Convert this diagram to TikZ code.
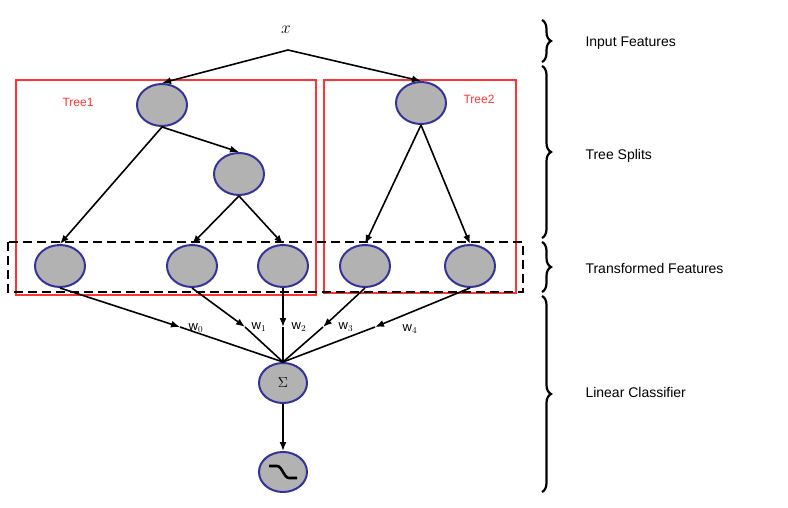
\documentclass[tikz,border=0pt]{standalone}
\usepackage{fontspec}
\setmainfont{Liberation Sans}
\usetikzlibrary{decorations.pathreplacing,arrows.meta,shapes.geometric}
\begin{document}
\begin{tikzpicture}[x=1pt,y=-1pt,
  nd/.style={ellipse,draw=blue!50!black!80,line width=2pt,fill=black!30,minimum width=50pt,minimum height=42pt,inner sep=0pt},
  ed/.style={-{Latex[length=9pt,width=7pt]},line width=1.6pt},
  ln/.style={line width=1.6pt},
  tb/.style={draw=red!80,line width=2pt},
  br/.style={decorate,decoration={brace,amplitude=9pt},line width=2.2pt},
  lab/.style={anchor=west,font=\fontsize{14}{16}\selectfont},
  wl/.style={font=\fontsize{13}{15}\selectfont}]
\useasboundingbox (0,0) rectangle (788,508);
\draw[tb] (16,80) rectangle (316,295);
\draw[tb] (324,80) rectangle (516,293);
\draw[line width=2.2pt,dash pattern=on 9pt off 5pt] (8,242) rectangle (523,292);
\node[font=\fontsize{17}{19}\selectfont] (x) at (286,30) {$x$};
\coordinate (sp) at (288,50);
\node[nd] (r1) at (162,105) {};
\node[nd] (i1) at (239,174) {};
\node[nd] (r2) at (421,103) {};
\node[nd] (l1) at (60,266) {};
\node[nd] (l2) at (192,266) {};
\node[nd] (l3) at (283,266) {};
\node[nd] (l4) at (365,266) {};
\node[nd] (l5) at (470,266) {};
\node[nd,minimum width=48pt,minimum height=40pt,font=\fontsize{14}{16}\selectfont] (s) at (283,383) {$\Sigma$};
\node[nd,minimum width=48pt,minimum height=40pt] (g) at (283,472) {};
\draw[line width=2.6pt] ([xshift=-14pt,yshift=6pt]g.center) -- ([xshift=-6pt,yshift=6pt]g.center) .. controls ([xshift=-1pt,yshift=6pt]g.center) and ([xshift=1pt,yshift=-6pt]g.center) .. ([xshift=6pt,yshift=-6pt]g.center) -- ([xshift=14pt,yshift=-6pt]g.center);
\node[text=red!80,font=\fontsize{12}{14}\selectfont] (t1) at (78,102) {Tree1};
\node[text=red!80,font=\fontsize{12}{14}\selectfont] (t2) at (479,99) {Tree2};
\draw[ed] (sp) -- (r2.north);
\draw[ed] (sp) -- (r1.north);
\draw[ed] (r1.south) -- (l1.north);
\draw[ed] (r1.south) -- (i1.north);
\draw[ed] (i1.south) -- (l2.north);
\draw[ed] (i1.south) -- (l3.north);
\draw[ed] (r2.south) -- (l4.north);
\draw[ed] (r2.south) -- (l5.north);
\coordinate (m0) at (180,327);
\coordinate (m1) at (245,327);
\coordinate (m2) at (283,327);
\coordinate (m3) at (323,327);
\coordinate (m4) at (375,327);
\foreach \l/\m in {l1/m0,l2/m1,l3/m2,l4/m3,l5/m4}{
  \draw[ed] (\l.south) -- (\m);
  \draw[ln] (\m) -- (s.north);}
\node[wl] (w0) at (196,328) {w$_0$};
\node[wl] (w1) at (259,327) {w$_1$};
\node[wl] (w2) at (299,327) {w$_2$};
\node[wl] (w3) at (346,327) {w$_3$};
\node[wl] (w4) at (410,329) {w$_4$};
\draw[ed] (s.south) -- (g.north);
\draw[br] (542,20) -- (542,62);
\draw[br] (542,66) -- (542,238);
\draw[br] (542,242) -- (542,292);
\draw[br] (542,296) -- (542,492);
\node[lab] (a) at (582,43) {Input Features};
\node[lab] (b) at (582,156) {Tree Splits};
\node[lab] (c) at (582,268) {Transformed Features};
\node[lab] (d) at (582,392) {Linear Classifier};
\end{tikzpicture}
\end{document}
